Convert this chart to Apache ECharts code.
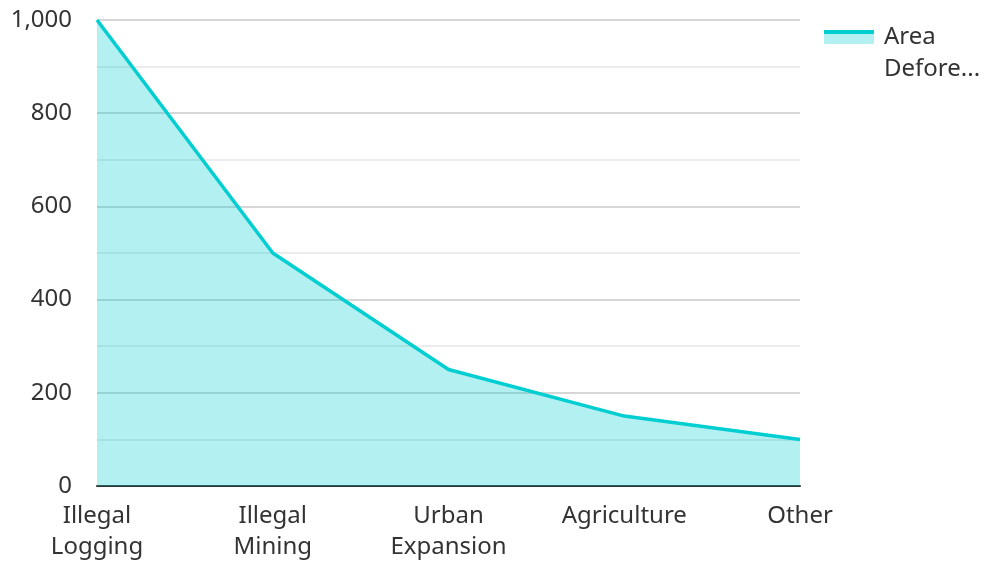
<!DOCTYPE html>
<html>
<head>
<meta charset="utf-8">
<script src="https://cdn.jsdelivr.net/npm/echarts@6/dist/echarts.min.js"></script>
<style>
  html, body { margin: 0; padding: 0; background: #fff; }
  #chart { width: 985px; height: 563px; }
</style>
</head>
<body>
<div id="chart"></div>
<script>
// Deforestation causes and the area each has cleared
const categories = ['Illegal\nLogging', 'Illegal\nMining', 'Urban\nExpansion', 'Agriculture', 'Other'];
const areaValues = [1000, 500, 250, 150, 100];
const seriesName = 'Area Deforested';

const lineColor = '#00CED1';
const fillColor = '#B2F0F1';

const chart = echarts.init(document.getElementById('chart'));
chart.setOption({
  animation: false,
  textStyle: { fontFamily: 'Noto Sans' },
  grid: { left: 97, right: 185, top: 20, bottom: 76 },
  legend: {
    left: 824,
    top: -11,
    padding: 0,
    orient: 'vertical',
    itemWidth: 50,
    itemHeight: 14,
    icon: 'rect',
    // swatch: a line strip over a filled area
    itemStyle: {
      color: new echarts.graphic.LinearGradient(0, 0, 0, 1, [
        { offset: 0, color: lineColor },
        { offset: 0.25, color: lineColor },
        { offset: 0.25, color: fillColor },
        { offset: 1, color: fillColor }
      ]),
      borderWidth: 0
    },
    // wrap the name so its first word sits level with the swatch
    formatter: name => '\n' + name.replace(' ', '\n'),
    textStyle: {
      fontSize: 24,
      color: '#333',
      lineHeight: 32,
      width: 100,
      overflow: 'truncate',
      padding: [0, 0, 0, 5]
    }
  },
  xAxis: {
    type: 'category',
    data: categories,
    boundaryGap: false,
    axisLine: { lineStyle: { color: '#333', width: 2 } },
    axisTick: { show: false },
    axisLabel: { fontSize: 24, color: '#333', margin: 15, lineHeight: 31, interval: 0 }
  },
  yAxis: {
    type: 'value',
    min: 0,
    max: 1000,
    interval: 200,
    axisLine: { show: false },
    axisTick: { show: false },
    axisLabel: { fontSize: 24, color: '#333', margin: 25 },
    splitLine: { lineStyle: { color: '#c8c8c8', width: 1.5 } },
    minorTick: { show: false, splitNumber: 2 },
    minorSplitLine: { show: true, lineStyle: { color: '#e6e6e6', width: 1.5 } }
  },
  series: [{
    name: seriesName,
    type: 'line',
    data: areaValues,
    symbol: 'none',
    lineStyle: { color: lineColor, width: 3.5 },
    itemStyle: { color: lineColor },
    areaStyle: { color: lineColor, opacity: 0.3 }
  }]
});
</script>
</body>
</html>
